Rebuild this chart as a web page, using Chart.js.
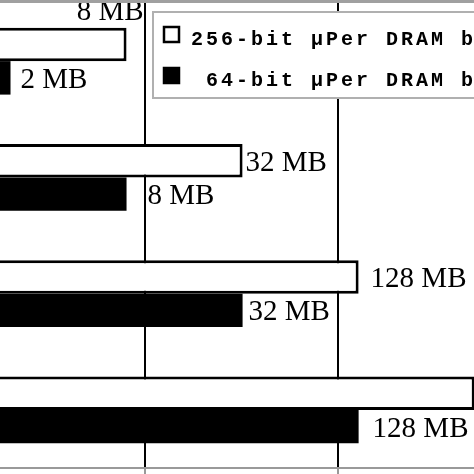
<!DOCTYPE html>
<html>
<head>
<meta charset="utf-8">
<script src="https://cdn.jsdelivr.net/npm/chart.js@4/dist/chart.umd.min.js"></script>
<style>
html, body { margin: 0; padding: 0; background: #fff; overflow: hidden; }
#box { width: 474px; height: 474px; }
</style>
</head>
<body>
<div id="box"><canvas id="barChart"></canvas></div>
<script>
let categories = ["1 chip", "4 chips", "16 chips", "64 chips"];
let wideLabel = "256-bit \u00b5Per DRAM bus";
let narrowLabel = " 64-bit \u00b5Per DRAM bus";
let wideValues = [8, 32, 128, 512];
let narrowValues = [2, 8, 32, 128];
let gridValues = [10, 100];

// gap between bar end and its label, as the original placed them
let wideGap = [17, 3, 12, 10];
let narrowGap = [10, 21, 6, 14];

let valueLabels = {
    id: "valueLabels",
    afterDatasetsDraw(chart) {
        let ctx = chart.ctx;
        ctx.save();
        ctx.font = "29px 'Liberation Serif', 'Times New Roman', serif";
        ctx.fillStyle = "#000";
        ctx.textBaseline = "alphabetic";
        chart.data.datasets.forEach((ds, i) => {
            let gaps = i === 0 ? wideGap : narrowGap;
            chart.getDatasetMeta(i).data.forEach((bar, j) => {
                let x = bar.x + gaps[j];
                let y = bar.y + 10;
                ctx.textAlign = "left";
                if (i === 0 && j === 0) {
                    // the legend sits beside this bar, so its label goes above
                    ctx.textAlign = "right";
                    y = bar.y - 24;
                }
                ctx.fillText(ds.data[j] + " MB", x, y);
            });
        });
        ctx.restore();
    }
};

let legendBox = {
    id: "legendBox",
    afterDraw(chart) {
        let ctx = chart.ctx;
        ctx.save();
        // grey plot frame along the top
        ctx.fillStyle = "#a0a0a0";
        ctx.fillRect(0, 0, chart.width, 3);

        ctx.fillStyle = "#fff";
        ctx.strokeStyle = "#b0b0b0";
        ctx.lineWidth = 2;
        ctx.fillRect(153, 12, 400, 86);
        ctx.strokeRect(153, 12, 400, 86);

        ctx.font = "bold 20px 'Liberation Mono', monospace";
        ctx.letterSpacing = "3px";
        ctx.textAlign = "left";
        ctx.textBaseline = "alphabetic";
        let rows = [34, 75];
        chart.data.datasets.forEach((ds, i) => {
            let cy = rows[i];
            ctx.fillStyle = ds.backgroundColor;
            ctx.fillRect(164, cy - 7, 15, 15);
            ctx.strokeStyle = "#000";
            ctx.lineWidth = 2.5;
            ctx.strokeRect(164, cy - 7, 15, 15);
            ctx.fillStyle = "#000";
            ctx.fillText(ds.label, 191, cy + 11);
        });
        ctx.restore();
    }
};

let chart1 = new Chart(document.getElementById("barChart"), {
    type: "bar",
    data: {
        labels: categories,
        datasets: [
            { label: wideLabel, data: wideValues, backgroundColor: "#fff", borderColor: "#000", borderWidth: 3, borderSkipped: "start" },
            { label: narrowLabel, data: narrowValues, backgroundColor: "#000", borderColor: "#000", borderWidth: 0 }
        ]
    },
    options: {
        indexAxis: "y",
        responsive: true,
        maintainAspectRatio: false,
        animation: false,
        layout: { padding: { top: 3, left: 0, right: 0, bottom: 0 } },
        datasets: { bar: { categoryPercentage: 0.576, barPercentage: 1 } },
        plugins: { legend: { display: false }, tooltip: { enabled: false } },
        scales: {
            x: {
                type: "logarithmic",
                min: 1.764,
                max: 508,
                afterBuildTicks: axis => { axis.ticks = gridValues.map(v => ({ value: v })); },
                ticks: { display: false },
                grid: { color: "#000", lineWidth: 2, tickColor: "#999", tickLength: 6 },
                border: { color: "#999", width: 2 }
            },
            y: { display: false }
        }
    },
    plugins: [valueLabels, legendBox]
});
</script>
</body>
</html>
